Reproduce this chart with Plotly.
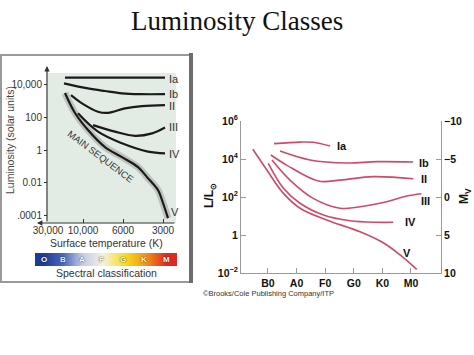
import plotly.graph_objects as go

W, H = 474, 355


def px(x):
    return x / W


def py(y):
    return 1 - y / H


# ---------------- Left panel data (textbook HR sketch) ----------------
# x in "display temperature units" along the axis, y = log10(L / Lsun)
left_temp_ticktext = ["30,000", "10,000", "6000", "3000"]
left_temp_tickvals = [0, 35, 75, 115]
left_lum_ticktext = [".0001", "0.01", "1", "100", "10,000"]
left_lum_tickvals = [1e-4, 1e-2, 1, 1e2, 1e4]

left_ia_x = [17, 60, 117]
left_ia_logl = [4.42, 4.42, 4.42]
left_ib_x = [16, 40, 57, 74, 92, 117]
left_ib_logl = [4.07, 3.76, 3.60, 3.46, 3.41, 3.41]
left_ii_x = [23, 34, 50, 60, 77, 94, 117]
left_ii_logl = [3.35, 2.85, 2.34, 2.27, 2.54, 2.68, 2.74]
left_iii_x = [45, 67, 87, 104, 117]
left_iii_logl = [1.52, 1.12, 0.87, 1.02, 1.38]
left_iv_x = [30, 50, 74, 100, 117]
left_iv_logl = [2.24, 1.12, 0.41, -0.10, -0.20]
left_v_x = [17, 27, 40, 57, 74, 90, 99, 110, 115, 120]
left_v_logl = [3.48, 2.26, 1.22, 0.18, -0.43, -1.04, -1.65, -2.44, -3.23, -4.15]

spec_letters = ["O", "B", "A", "F", "G", "K", "M"]
spec_pos = [12, 30, 48, 67, 88, 108, 129]
spec_colors = ["#1f3c94", "#4a69ba", "#c3cbe6", "#f3f0e4", "#f7e11f", "#f29a1a", "#df2a20"]

# ---------------- Right panel data ----------------
right_spec_ticktext = ["B0", "A0", "F0", "G0", "K0", "M0"]
right_spec_tickvals = [0, 1, 2, 3, 4, 5]
right_lum_tickvals = [1e-2, 1, 1e2, 1e4, 1e6]
right_lum_ticktext = ["10<sup>\u22122</sup>", "1", "10<sup>2</sup>", "10<sup>4</sup>", "10<sup>6</sup>"]
right_mv_tickvals = [-10, -5, 0, 5, 10]
right_mv_ticktext = ["\u221210", "\u22125", "0", "5", "10"]

right_ia_s = [0.21, 1.12, 1.58, 2.17]
right_ia_logl = [4.81, 4.89, 4.88, 4.68]
right_ib_s = [0.42, 1.47, 2.76, 3.81, 5.07]
right_ib_logl = [4.42, 3.95, 3.79, 3.86, 3.84]
right_ii_s = [0.10, 0.65, 1.76, 2.52, 3.68, 5.08]
right_ii_logl = [4.21, 3.68, 2.84, 2.89, 3.07, 2.96]
right_iii_s = [0.14, 0.77, 1.58, 2.52, 3.10, 4.15, 4.85, 5.37]
right_iii_logl = [3.95, 2.89, 1.93, 1.41, 1.46, 1.75, 2.05, 2.17]
right_iv_s = [0.01, 0.54, 1.12, 1.94, 2.87, 3.80, 4.38]
right_iv_logl = [3.77, 2.46, 1.67, 1.05, 0.75, 0.67, 0.67]
right_v_s = [-0.53, -0.04, 0.54, 1.12, 2.05, 3.22, 4.03, 4.62, 5.20]
right_v_logl = [4.51, 3.42, 2.19, 1.41, 0.79, 0.17, -0.41, -1.05, -1.81]

classes = ["Ia", "Ib", "II", "III", "IV", "V"]

FONT = "Liberation Sans, Arial, sans-serif"
INK = "#1a1a1a"
PINK = "#cf4a66"

left_series = list(zip(classes,
                       [left_ia_x, left_ib_x, left_ii_x, left_iii_x, left_iv_x, left_v_x],
                       [left_ia_logl, left_ib_logl, left_ii_logl, left_iii_logl, left_iv_logl, left_v_logl]))
right_series = list(zip(classes,
                        [right_ia_s, right_ib_s, right_ii_s, right_iii_s, right_iv_s, right_v_s],
                        [right_ia_logl, right_ib_logl, right_ii_logl, right_iii_logl, right_iv_logl, right_v_logl]))

fig = go.Figure()

# main-sequence soft shadow (left)
fig.add_trace(go.Scatter(x=left_v_x, y=[10 ** v for v in left_v_logl], mode="lines",
                         line=dict(color="rgba(120,120,120,0.35)", width=7, shape="spline"),
                         xaxis="x", yaxis="y", hoverinfo="skip", showlegend=False))
for name, xs, ls in left_series:
    fig.add_trace(go.Scatter(x=xs, y=[10 ** v for v in ls], mode="lines", name=name,
                             line=dict(color=INK, width=2.2, shape="spline", smoothing=1.0),
                             xaxis="x", yaxis="y", hoverinfo="skip", showlegend=False))

# spectral classification colour bar
fig.add_trace(go.Heatmap(z=[list(range(len(spec_letters)))], x=spec_pos, y=[0],
                         colorscale=[[i / (len(spec_colors) - 1), c] for i, c in enumerate(spec_colors)],
                         zsmooth="best", showscale=False, hoverinfo="skip",
                         xaxis="x3", yaxis="y4"))

for name, xs, ls in right_series:
    fig.add_trace(go.Scatter(x=xs, y=[10 ** v for v in ls], mode="lines", name=name,
                             line=dict(color=PINK, width=1.6, shape="spline", smoothing=1.0),
                             xaxis="x2", yaxis="y2", hoverinfo="skip", showlegend=False))
# anchor trace for the M_V axis
fig.add_trace(go.Scatter(x=[None], y=[None], xaxis="x2", yaxis="y3", showlegend=False, hoverinfo="skip"))


def paper_text(text, x, y, size, color="#333", angle=0, xanchor="center", family=FONT):
    return dict(text=text, x=px(x), y=py(y), xref="paper", yref="paper", xanchor=xanchor,
                yanchor="middle", showarrow=False, textangle=angle,
                font=dict(family=family, size=size, color=color))


annotations = []
annotations.append(paper_text("Luminosity Classes", 237, 21, 27, "#111",
                              family="Liberation Serif, Times New Roman, serif"))

# left labels
left_label_shift = {"Ia": (2, -1), "Ib": (2, 0), "II": (2, -1), "III": (2, 0), "IV": (2, -1), "V": (1, 6)}
for name, xs, ls in left_series:
    dx, dy = left_label_shift[name]
    annotations.append(dict(text=name, x=xs[-1], y=ls[-1], xref="x", yref="y", xanchor="left",
                            yanchor="middle", showarrow=False, xshift=dx, yshift=dy,
                            font=dict(family=FONT, size=11, color="#333")))
annotations.append(dict(text="MAIN SEQUENCE", x=left_v_x[3], y=left_v_logl[3], xref="x", yref="y",
                        showarrow=False, textangle=37, xshift=-4, yshift=-9,
                        xanchor="center", yanchor="middle",
                        font=dict(family=FONT, size=9.5, color="#333")))
annotations.append(paper_text("Luminosity (solar units)", 10, 140, 10.5, "#444", angle=-90))
annotations.append(paper_text("Surface temperature (K)", 106, 243, 10.5))
annotations.append(paper_text("Spectral classification", 106, 273, 10.5))
letter_colors = ["#ffffff", "#e8ecf8", "#ffffff", "#ffffff", "#ffffff", "#ffffff", "#ffffff"]
for letter, pos, col in zip(spec_letters, spec_pos, letter_colors):
    annotations.append(dict(text="<b>" + letter + "</b>", x=pos, y=0, xref="x3", yref="y4", showarrow=False,
                            xanchor="center", yanchor="middle",
                            font=dict(family=FONT, size=8, color=col, shadow="0px 0px 1.5px #000")))
# left axis arrows
annotations.append(dict(text="", x=px(47), y=py(66), xref="paper", yref="paper", ax=0, ay=157,
                        showarrow=True, arrowhead=2, arrowsize=0.9, arrowwidth=1.2, arrowcolor="#333"))
annotations.append(dict(text="", x=px(37), y=py(223), xref="paper", yref="paper", ax=139, ay=0,
                        showarrow=True, arrowhead=2, arrowsize=0.9, arrowwidth=1.2, arrowcolor="#333"))

# right labels
right_label_shift = {"Ia": ("left", 5, 0), "Ib": ("left", 4, -1), "II": ("left", 6, 0),
                     "III": ("left", -3, -7), "IV": ("left", 10, 0), "V": ("center", -10, 16)}
for name, xs, ls in right_series:
    anc, dx, dy = right_label_shift[name]
    annotations.append(dict(text="<b>" + name + "</b>", x=xs[-1], y=ls[-1], xref="x2", yref="y2",
                            xanchor=anc, yanchor="middle", showarrow=False, xshift=dx, yshift=dy,
                            font=dict(family=FONT, size=11, color="#111")))
annotations.append(paper_text("<b>L/L<sub>\u2299</sub></b>", 210, 196, 12, "#111", angle=-90))
annotations.append(paper_text("<b>M<sub>V</sub></b>", 465, 196, 12, "#111", angle=-90))
annotations.append(paper_text("\u00a9Brooks/Cole Publishing Company/ITP", 201, 293, 7.5, "#333",
                              xanchor="left"))

shapes = [
    # left figure card
    dict(type="rect", xref="paper", yref="paper", x0=px(1), x1=px(190), y0=py(282), y1=py(55),
         line=dict(color="#9a9a9a", width=2), fillcolor="#ffffff", layer="below"),
    dict(type="rect", xref="paper", yref="paper", x0=px(189), x1=px(193), y0=py(283), y1=py(53),
         line=dict(width=0), fillcolor="#6c6c6c", layer="below"),
    # shaded plotting area
    dict(type="rect", xref="x domain", yref="y domain", x0=0, x1=1, y0=0, y1=1,
         line=dict(width=0), fillcolor="#e3ebe5", layer="below"),
]

axis_common = dict(showgrid=False, zeroline=False, automargin=False)

fig.update_layout(
    width=W, height=H, margin=dict(l=0, r=0, t=0, b=0, pad=0, autoexpand=False),
    paper_bgcolor="white", plot_bgcolor="rgba(0,0,0,0)",
    font=dict(family=FONT, color="#111"),
    showlegend=False,
    annotations=annotations, shapes=shapes,
    xaxis=dict(domain=[px(48), px(176)], range=[0, 128], anchor="y",
               tickvals=left_temp_tickvals, ticktext=left_temp_ticktext,
               ticks="inside", ticklen=4, tickcolor="#333", showline=False,
               tickfont=dict(size=10, color="#333"), **axis_common),
    yaxis=dict(domain=[py(223), py(73)], type="log", range=[-4.45, 4.7], anchor="x",
               tickvals=left_lum_tickvals, ticktext=left_lum_ticktext,
               ticks="outside", ticklen=3, tickcolor="#333", showline=False,
               tickfont=dict(size=10, color="#333"), **axis_common),
    xaxis3=dict(domain=[px(35), px(177)], range=[3, 139.5], anchor="y4", visible=False, **axis_common),
    yaxis4=dict(domain=[py(266), py(253)], range=[-0.5, 0.5], anchor="x3", visible=False, **axis_common),
    xaxis2=dict(domain=[px(241), px(441)], range=[-0.944, 6.05], anchor="y2",
                tickvals=right_spec_tickvals, ticktext=["<b>" + t + "</b>" for t in right_spec_ticktext],
                ticks="inside", ticklen=5, tickcolor="#9a9a9a", showline=True, linecolor="#9a9a9a",
                linewidth=1, tickfont=dict(size=10.5, color="#111"), **axis_common),
    yaxis2=dict(domain=[py(273), py(121)], type="log", range=[-2, 6], anchor="x2",
                tickvals=right_lum_tickvals, ticktext=["<b>" + t + "</b>" for t in right_lum_ticktext],
                ticks="inside", ticklen=5, tickcolor="#9a9a9a", showline=True, linecolor="#9a9a9a",
                linewidth=1, tickfont=dict(size=10.5, color="#111"), **axis_common),
    yaxis3=dict(overlaying="y2", side="right", anchor="x2", range=[10, -10],
                tickvals=right_mv_tickvals, ticktext=["<b>" + t + "</b>" for t in right_mv_ticktext],
                ticks="inside", ticklen=5, tickcolor="#9a9a9a", showline=True, linecolor="#9a9a9a",
                linewidth=1, tickfont=dict(size=10.5, color="#111"), **axis_common),
)

fig.write_html("out.html", config={"displayModeBar": False, "staticPlot": True},
               post_script="document.body.style.margin='0';")
